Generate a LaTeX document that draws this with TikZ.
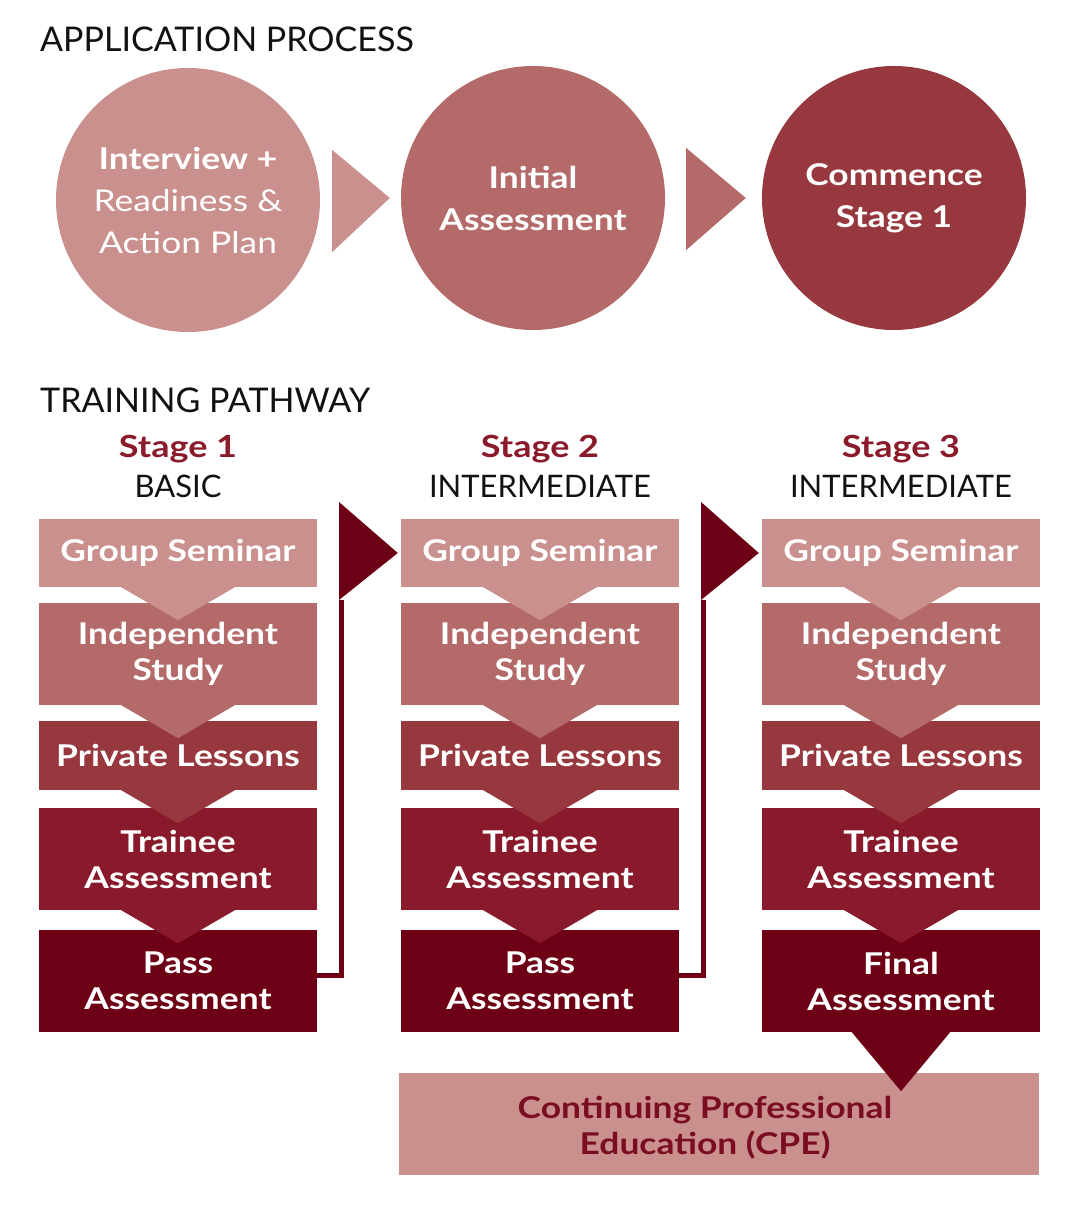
\documentclass[tikz,border=0pt]{standalone}
\usepackage{fontspec}
\setmainfont{Lato}
\newfontfamily\widefam{Lato}[FakeStretch=1.18]
\usetikzlibrary{calc}
\definecolor{cA}{HTML}{C9908D}
\definecolor{cB}{HTML}{B46A69}
\definecolor{cC}{HTML}{97383E}
\definecolor{cD}{HTML}{881A2B}
\definecolor{cE}{HTML}{6E0016}
\definecolor{cH}{HTML}{8B1A2B}
\definecolor{cT}{HTML}{7A0E20}
\definecolor{ink}{HTML}{111111}
\newcommand\boxfont{\widefam\fontsize{30}{36}\selectfont\bfseries}
\newcommand\circfont{\widefam\fontsize{30}{42}\selectfont}
\newcommand\titlefont{\fontsize{34}{40}\selectfont}
\newcommand\stagefont{\widefam\fontsize{30.5}{38}\selectfont\bfseries}
\newcommand\levelfont{\fontsize{31}{38}\selectfont}
\newcommand\chev[2]{\fill[#2] ([xshift=-58.5pt,yshift=1pt]#1.south) -- ([xshift=58.5pt,yshift=1pt]#1.south) -- ([yshift=-33pt]#1.south) -- cycle;}
\begin{document}
\begin{tikzpicture}[x=1pt,y=-1pt,
  box/.style={rectangle, minimum width=278pt, inner sep=0pt, align=center, text=white, font=\boxfont},
  circ/.style={circle, minimum size=264pt, inner sep=0pt, align=center, text=white, font=\circfont},
  heading/.style={anchor=base west, inner sep=0pt, font=\titlefont, text=ink},
  stagelbl/.style={anchor=base, inner sep=0pt, font=\stagefont, text=cH},
  levellbl/.style={anchor=base, inner sep=0pt, font=\levelfont, text=ink},
  link/.style={draw=cE, line width=5pt}]
\useasboundingbox[fill=white] (0,0) rectangle (1080,1206);

% Application process
\node[heading] (t1) at (40,52) {APPLICATION PROCESS};
\node[circ, fill=cA] (c1) at (188,200) {\textbf{Interview +}\\Readiness \&\\Action Plan};
\node[circ, fill=cB, font=\circfont\bfseries] (c2) at (533,198) {Initial\\Assessment};
\node[circ, fill=cC, font=\circfont\bfseries] (c3) at (894,198) {Commence\\Stage 1};
\fill[cA] ([xshift=12pt,yshift=50pt]c1.east) -- ([xshift=-11pt]c2.west) -- ([xshift=12pt,yshift=-52pt]c1.east) -- cycle;
\fill[cB] ([xshift=21pt,yshift=50pt]c2.east) -- ([xshift=-16pt]c3.west) -- ([xshift=21pt,yshift=-52pt]c2.east) -- cycle;

% Training pathway
\node[heading] (t2) at (40,412) {TRAINING PATHWAY};
\foreach \cx/\s/\lv in {178/1/BASIC,540/2/INTERMEDIATE,901/3/INTERMEDIATE}{
  \node[stagelbl] (st\s) at (\cx,457) {Stage \s};
  \node[levellbl] (lv\s) at (\cx,497) {\lv};
}

% CPE
\node[rectangle, fill=cA, minimum width=640pt, minimum height=102pt, inner sep=0pt] (cpe) at (719,1124) {};
\node[align=center, font=\boxfont, text=cT, inner sep=0pt] (cpetext) at ([xshift=-14pt,yshift=-4pt]cpe.center) {Continuing Professional\\Education (CPE)};

% rows drawn bottom-up so each chevron lies over the box below it
\foreach \cx/\s/\t in {178/1/Pass,540/2/Pass,901/3/Final}{
  \node[box, fill=cE, minimum height=102pt] (pa\s) at (\cx,981) {\t\\Assessment};
}
\fill[cE] ([xshift=-50pt,yshift=1pt]pa3.south) -- ([xshift=50pt,yshift=1pt]pa3.south) -- ([yshift=-59pt]pa3.south) -- cycle;
\foreach \cx/\s in {178/1,540/2,901/3}{
  \node[box, fill=cD, minimum height=102pt] (ta\s) at (\cx,859) {Trainee\\Assessment};
  \chev{ta\s}{cD}
}
\foreach \cx/\s in {178/1,540/2,901/3}{
  \node[box, fill=cC, minimum height=69pt] (pl\s) at (\cx,755.5) {Private Lessons};
  \chev{pl\s}{cC}
}
\foreach \cx/\s in {178/1,540/2,901/3}{
  \node[box, fill=cB, minimum height=102pt] (is\s) at (\cx,654) {Independent\\Study};
  \chev{is\s}{cB}
}
\foreach \cx/\s in {178/1,540/2,901/3}{
  \node[box, fill=cA, minimum height=68pt] (gs\s) at (\cx,553) {Group Seminar};
  \chev{gs\s}{cA}
}

% stage-to-stage connectors
\coordinate (f1) at (341.5,600);
\coordinate (f2) at (703.5,600);
\draw[link] ([yshift=5.5pt]pa1.east) -| (f1);
\draw[link] ([yshift=5.5pt]pa2.east) -| (f2);
\fill[cE] ([xshift=-2.5pt,yshift=98pt]f1) -- ([xshift=-3pt]gs2.west) -- ([xshift=-2.5pt]f1) -- cycle;
\fill[cE] ([xshift=-2.5pt,yshift=98pt]f2) -- ([xshift=-3pt]gs3.west) -- ([xshift=-2.5pt]f2) -- cycle;
\end{tikzpicture}
\end{document}
